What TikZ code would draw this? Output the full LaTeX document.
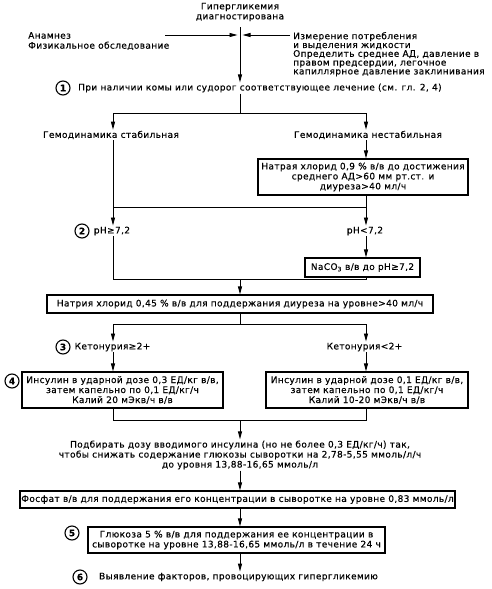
\documentclass[tikz,border=0pt]{standalone}
\usepackage{fontspec}
\setmainfont{DejaVu Sans}[LetterSpace=4,FakeBold=0.3]
\usetikzlibrary{arrows.meta}

\begin{document}
\begin{tikzpicture}[x=1pt,y=1pt,
  lbl/.style={font=\fontsize{9}{10}\selectfont},
  box/.style={draw, line width=1.1pt, align=center, font=\fontsize{9}{10}\selectfont},
  num/.style={circle, draw, line width=1.1pt, minimum size=14pt, font=\bfseries\fontsize{9}{9}\selectfont},
  flow/.style={line width=0.9pt},
  go/.style={flow, -{Triangle[length=8pt,width=4pt]}}]
\tikzstyle{every node}+=[inner sep=1pt]
\useasboundingbox (0,0) rectangle (491,-589);
% start
\node [lbl, align=center] (diag) at (240,-12) {Гипергликемия\\диагностирована};
\node [lbl, align=left, anchor=west] (hist) at (27,-41) {Анамнез\\Физикальное обследование};
\node [lbl, align=left, anchor=north west, font=\fontsize{9}{8.8}\selectfont] (meas) at (292,-31) {Измерение потребления\\и выделения жидкости\\Определить среднее АД, давление в\\правом предсердии, легочное\\капиллярное давление заклинивания};
\coordinate (top) at (240,-27);
\coordinate (join) at (240,-35);
\coordinate (histend) at (165,-35);
\coordinate (measend) at (290,-35);
\draw [go, shorten >=2.5pt] (histend) -- (join);
\draw [go, shorten >=2.5pt] (measend) -- (join);
\node [num] (n1) at (63,-88) {1};
\node [lbl, anchor=west] (s1) at (77,-88) {При наличии комы или судорог соответствующее лечение (см. гл. 2, 4)};
\draw [go] (top) -- (top |- s1.north);
% haemodynamics
\coordinate (fork1) at (240,-113);
\coordinate (fork1l) at (113,-113);
\coordinate (fork1r) at (366,-113);
\draw [flow] (fork1 |- s1.south) -- (fork1);
\draw [flow] (fork1l) -- (fork1r);
\node [lbl] (stab) at (111,-135) {Гемодинамика стабильная};
\node [lbl] (unst) at (368,-135) {Гемодинамика нестабильная};
\draw [go] (fork1l) -- (fork1l |- stab.north);
\draw [go] (fork1r) -- (fork1r |- unst.north);
\node [box, minimum width=210, minimum height=36] (nacl09) at (363,-177) {Натрая хлорид 0,9 \% в/в до достижения\\среднего АД>60 мм рт.ст. и\\диуреза>40 мл/ч};
\draw [go] (fork1r |- unst.south) -- (fork1r |- nacl09.north);
\coordinate (meet1l) at (113,-207);
\coordinate (meet1r) at (366,-207);
\draw [flow] (fork1l |- stab.south) -- (meet1l) -- (meet1r) -- (meet1r |- nacl09.south);
% pH
\node [num] (n2) at (82,-231) {2};
\node [lbl] (phok) at (112,-231) {pH≥7,2};
\node [lbl] (phlow) at (365,-231) {pH<7,2};
\draw [go] (meet1l) -- (meet1l |- phok.north);
\draw [go] (meet1r) -- (meet1r |- phlow.north);
\node [box, minimum width=115, minimum height=19] (naco) at (362.5,-267.5) {NaCO\textsubscript{3} в/в до pH≥7,2};
\draw [go] (meet1r |- phlow.south) -- (meet1r |- naco.north);
\coordinate (meet2) at (240,-279);
\coordinate (meet2l) at (113,-279);
\coordinate (meet2r) at (366,-279);
\draw [flow] (meet1l |- phok.south) -- (meet2l) -- (meet2r) -- (meet2r |- naco.south);
\node [box, minimum width=386, minimum height=18] (nacl045) at (240,-304) {Натрия хлорид 0,45 \% в/в для поддержания диуреза на уровне>40 мл/ч};
\draw [go] (meet2) -- (nacl045.north);
% ketonuria
\coordinate (fork2) at (240,-324);
\coordinate (fork2l) at (113,-324);
\coordinate (fork2r) at (366,-324);
\draw [flow] (nacl045.south) -- (fork2);
\draw [flow] (fork2l) -- (fork2r);
\node [num] (n3) at (63,-347) {3};
\node [lbl] (ketok) at (112.5,-347) {Кетонурия≥2+};
\node [lbl] (ketlow) at (364.5,-347) {Кетонурия<2+};
\draw [go] (fork2l) -- (fork2l |- ketok.north);
\draw [go] (fork2r) -- (fork2r |- ketlow.north);
\node [box, minimum width=201, minimum height=36] (insok) at (122.5,-390) {Инсулин в ударной дозе 0,3 ЕД/кг в/в,\\затем капельно по 0,1 ЕД/кг/ч\\Калий 20 мЭкв/ч в/в};
\node [box, minimum width=202, minimum height=36] (inslow) at (367,-390) {Инсулин в ударной дозе 0,1 ЕД/кг в/в,\\затем капельно по 0,1 ЕД/кг/ч\\Калий 10-20 мЭкв/ч в/в};
\node [num] (n4) at (12,-381) {4};
\draw [go] (fork2l |- ketok.south) -- (fork2l |- insok.north);
\draw [go] (fork2r |- ketlow.south) -- (fork2r |- inslow.north);
\coordinate (meet3) at (240,-420);
\coordinate (meet3l) at (113,-420);
\coordinate (meet3r) at (366,-420);
\draw [flow] (meet3l |- insok.south) -- (meet3l) -- (meet3r) -- (meet3r |- inslow.south);
% insulin dose and after
\node [lbl, align=center] (dose) at (240,-455) {Подбирать дозу вводимого инсулина (но не более 0,3 ЕД/кг/ч) так,\\чтобы снижать содержание глюкозы сыворотки на 2,78-5,55 ммоль/л/ч\\до уровня 13,88-16,65 ммоль/л};
\draw [go] (meet3) -- (meet3 |- dose.north);
\node [box, minimum width=435, minimum height=17] (phos) at (237.5,-499.5) {Фосфат в/в для поддержания его концентрации в сыворотке на уровне 0,83 ммоль/л};
\draw [go] (meet3 |- dose.south) -- (meet3 |- phos.north);
\node [box, minimum width=297, minimum height=26] (gluc) at (236.5,-540) {Глюкоза 5 \% в/в для поддержания ее концентрации в\\сыворотке на уровне 13,88-16,65 ммоль/л в течение 24 ч};
\node [num] (n5) at (72,-533) {5};
\draw [go] (meet3 |- phos.south) -- (meet3 |- gluc.north);
\node [num] (n6) at (80,-577) {6};
\node [lbl] (s6) at (238.5,-577) {Выявление факторов, провоцирующих гипергликемию};
\draw [go] (meet3 |- gluc.south) -- (meet3 |- s6.north);
\end{tikzpicture}
\end{document}
